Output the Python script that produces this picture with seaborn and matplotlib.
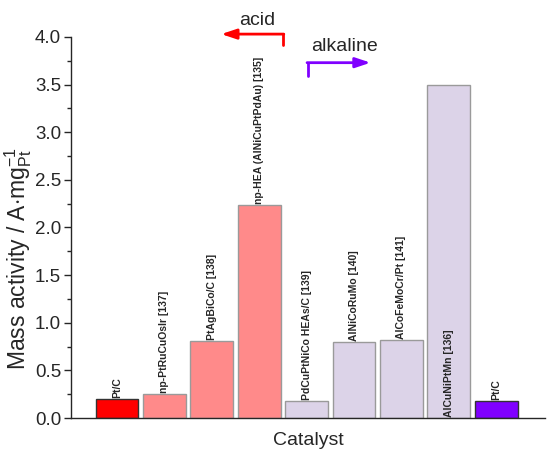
import matplotlib
matplotlib.use("Agg")
import matplotlib.pyplot as plt
from matplotlib.ticker import MultipleLocator
import seaborn as sns
import pandas as pd
import numpy as np

# data
catalysts = ["Pt/C", "np-PtRuCuOsIr [137]", "PtAgBiCo/C [138]",
             "np-HEA (AlNiCuPtPdAu) [135]", "PdCuPtNiCo HEAs/C [139]",
             "AlNiCoRuMo [140]", "AlCoFeMoCr/Pt [141]", "AlCuNiPtMn [136]", "Pt/C"]
mass_activity = [0.20, 0.25, 0.81, 2.24, 0.18, 0.80, 0.82, 3.50, 0.18]
medium = ["acid", "acid", "acid", "acid", "alkaline", "alkaline", "alkaline", "alkaline", "alkaline"]
fill_colors = ["#ff0000", "#ff8a8a", "#ff8a8a", "#ff8a8a", "#dcd3e8",
               "#dcd3e8", "#dcd3e8", "#dcd3e8", "#8000ff"]
edge_colors = ["#333333", "#9a9a9a", "#9a9a9a", "#9a9a9a", "#9a9a9a",
               "#9a9a9a", "#9a9a9a", "#9a9a9a", "#333333"]

df = pd.DataFrame({"pos": np.arange(len(catalysts)), "value": mass_activity,
                   "label": catalysts, "medium": medium})

sns.set_style("ticks")
plt.rcParams["font.family"] = ["Liberation Sans", "DejaVu Sans"]
plt.rcParams["mathtext.fontset"] = "custom"
plt.rcParams["mathtext.rm"] = "Liberation Sans"
plt.rcParams["mathtext.it"] = "Liberation Sans"

fig = plt.figure(figsize=(5.5, 4.58), dpi=100)
ax = fig.add_axes([0.129, 0.0873, 0.862, 0.832])

sns.barplot(data=df, x="pos", y="value", hue="pos", palette=fill_colors,
            legend=False, width=0.9, ax=ax, saturation=1)
for bar, ec in zip(ax.patches, edge_colors):
    bar.set_edgecolor(ec)
    bar.set_linewidth(1.0)

# vertical labels on top of each bar, inside the bar if it is too tall
for i, row in df.iterrows():
    y0 = row["value"] + 0.01 if row["value"] < 3.0 else 0.01
    ax.text(row["pos"], y0, row["label"], rotation=90,
            ha="center", va="bottom", fontsize=7.5, fontweight="bold")

ax.set_xlim(-0.97, 9.03)
ax.set_ylim(0, 4.0)
ax.yaxis.set_major_locator(MultipleLocator(0.5))
ax.yaxis.set_minor_locator(MultipleLocator(0.25))
ax.yaxis.set_major_formatter(matplotlib.ticker.FormatStrFormatter("%.1f"))
ax.set_xticks([])
ax.tick_params(axis="y", which="major", length=5, width=1, labelsize=13.5,
               direction="out", pad=2)
ax.tick_params(axis="y", which="minor", length=3, width=1, direction="out")
sns.despine(ax=ax)
for s in ["left", "bottom"]:
    ax.spines[s].set_linewidth(1.0)

ax.set_xlabel("Catalyst", fontsize=14, labelpad=10)
ax.set_ylabel(r"Mass activity / A$\cdot$mg$^{-1}_{\rm Pt}$", fontsize=16.5)
ax.yaxis.set_label_coords(-0.078, 0.42)

# acid / alkaline brackets with arrows
ax.plot([3.5, 3.5], [3.92, 4.03], color="#ff0000", lw=2, clip_on=False)
ax.annotate("", xy=(2.2, 4.03), xytext=(3.52, 4.03), annotation_clip=False,
            arrowprops=dict(arrowstyle="-|>,head_length=0.9,head_width=0.3",
                            color="#ff0000", lw=2, shrinkA=0, shrinkB=0))
ax.text(2.95, 4.17, "acid", ha="center", va="center", fontsize=14, clip_on=False)

ax.plot([4.03, 4.03], [3.59, 3.73], color="#8000ff", lw=2, clip_on=False)
ax.annotate("", xy=(5.35, 3.73), xytext=(4.01, 3.73), annotation_clip=False,
            arrowprops=dict(arrowstyle="-|>,head_length=0.9,head_width=0.3",
                            color="#8000ff", lw=2, shrinkA=0, shrinkB=0))
ax.text(4.81, 3.9, "alkaline", ha="center", va="center", fontsize=14)

fig.savefig("out.png", dpi=100)
